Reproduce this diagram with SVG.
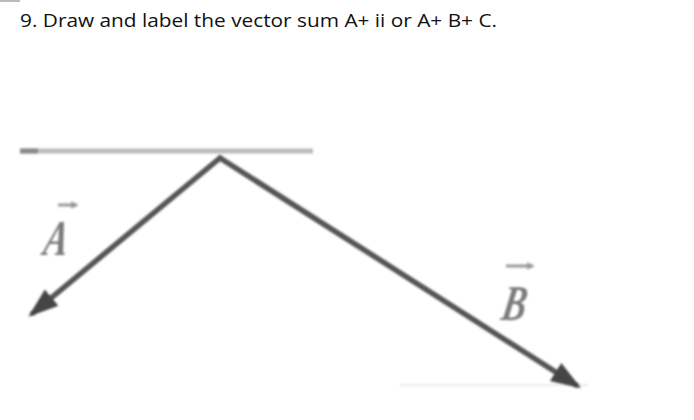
<svg xmlns="http://www.w3.org/2000/svg" width="694" height="420" viewBox="0 0 694 420">
  <style>
    .title { font-family: "Open Sans", "Liberation Sans", sans-serif; font-size: 19px; fill: #111; }
    .vec { stroke: #555; stroke-width: 5.5; fill: none; stroke-linecap: round; }
    .lbl { font-family: "Liberation Serif", serif; font-style: italic; font-weight: bold; font-size: 50px; fill: #7a7a7a; }
    .ov { stroke: #999; stroke-width: 3; fill: none; }
  </style>
  <defs>
    <filter id="blur" x="-10%" y="-10%" width="120%" height="120%">
      <feGaussianBlur stdDeviation="1.3"/>
    </filter>
    <marker id="head" viewBox="0 0 10 10" refX="8" refY="5" markerWidth="5.5" markerHeight="5.5" orient="auto" markerUnits="strokeWidth">
      <path d="M0,1.5 L10,5 L0,8.5 z" fill="#444"/>
    </marker>
    <marker id="small" viewBox="0 0 10 10" refX="8" refY="5" markerWidth="2.5" markerHeight="2.5" orient="auto" markerUnits="strokeWidth">
      <path d="M0,0 L10,5 L0,10 z" fill="#999"/>
    </marker>
  </defs>
  <rect width="694" height="420" fill="#fff"/>
  <rect x="0" y="0" width="20" height="2" fill="#bbb"/>
  <text class="title" x="20" y="27" textLength="477" lengthAdjust="spacingAndGlyphs">9. Draw and label the vector sum A+ ii or A+ B+ C.</text>
  <g id="baseline" filter="url(#blur)">
    <line x1="20" y1="151" x2="313" y2="151" stroke="#bbb" stroke-width="5"/>
    <line x1="20" y1="151" x2="38" y2="151" stroke="#888" stroke-width="5"/>
    <line x1="400" y1="385" x2="588" y2="385" stroke="#e4e4e4" stroke-width="1.5"/>
  </g>
  <g id="connectors" filter="url(#blur)">
    <line class="vec" x1="220" y1="158" x2="33" y2="313" marker-end="url(#head)"/>
    <line class="vec" x1="220" y1="158" x2="576" y2="385" marker-end="url(#head)"/>
  </g>
  <g id="label-A" filter="url(#blur)">
    <text class="lbl" transform="translate(42 255) skewX(-10) scale(0.72 1)">A</text>
    <line class="ov" x1="58" y1="205" x2="77" y2="205" marker-end="url(#small)"/>
  </g>
  <g id="label-B" filter="url(#blur)">
    <text class="lbl" transform="translate(500 320) skewX(-10) scale(0.72 1)">B</text>
    <line class="ov" x1="506" y1="266" x2="533" y2="266" marker-end="url(#small)"/>
  </g>
</svg>
